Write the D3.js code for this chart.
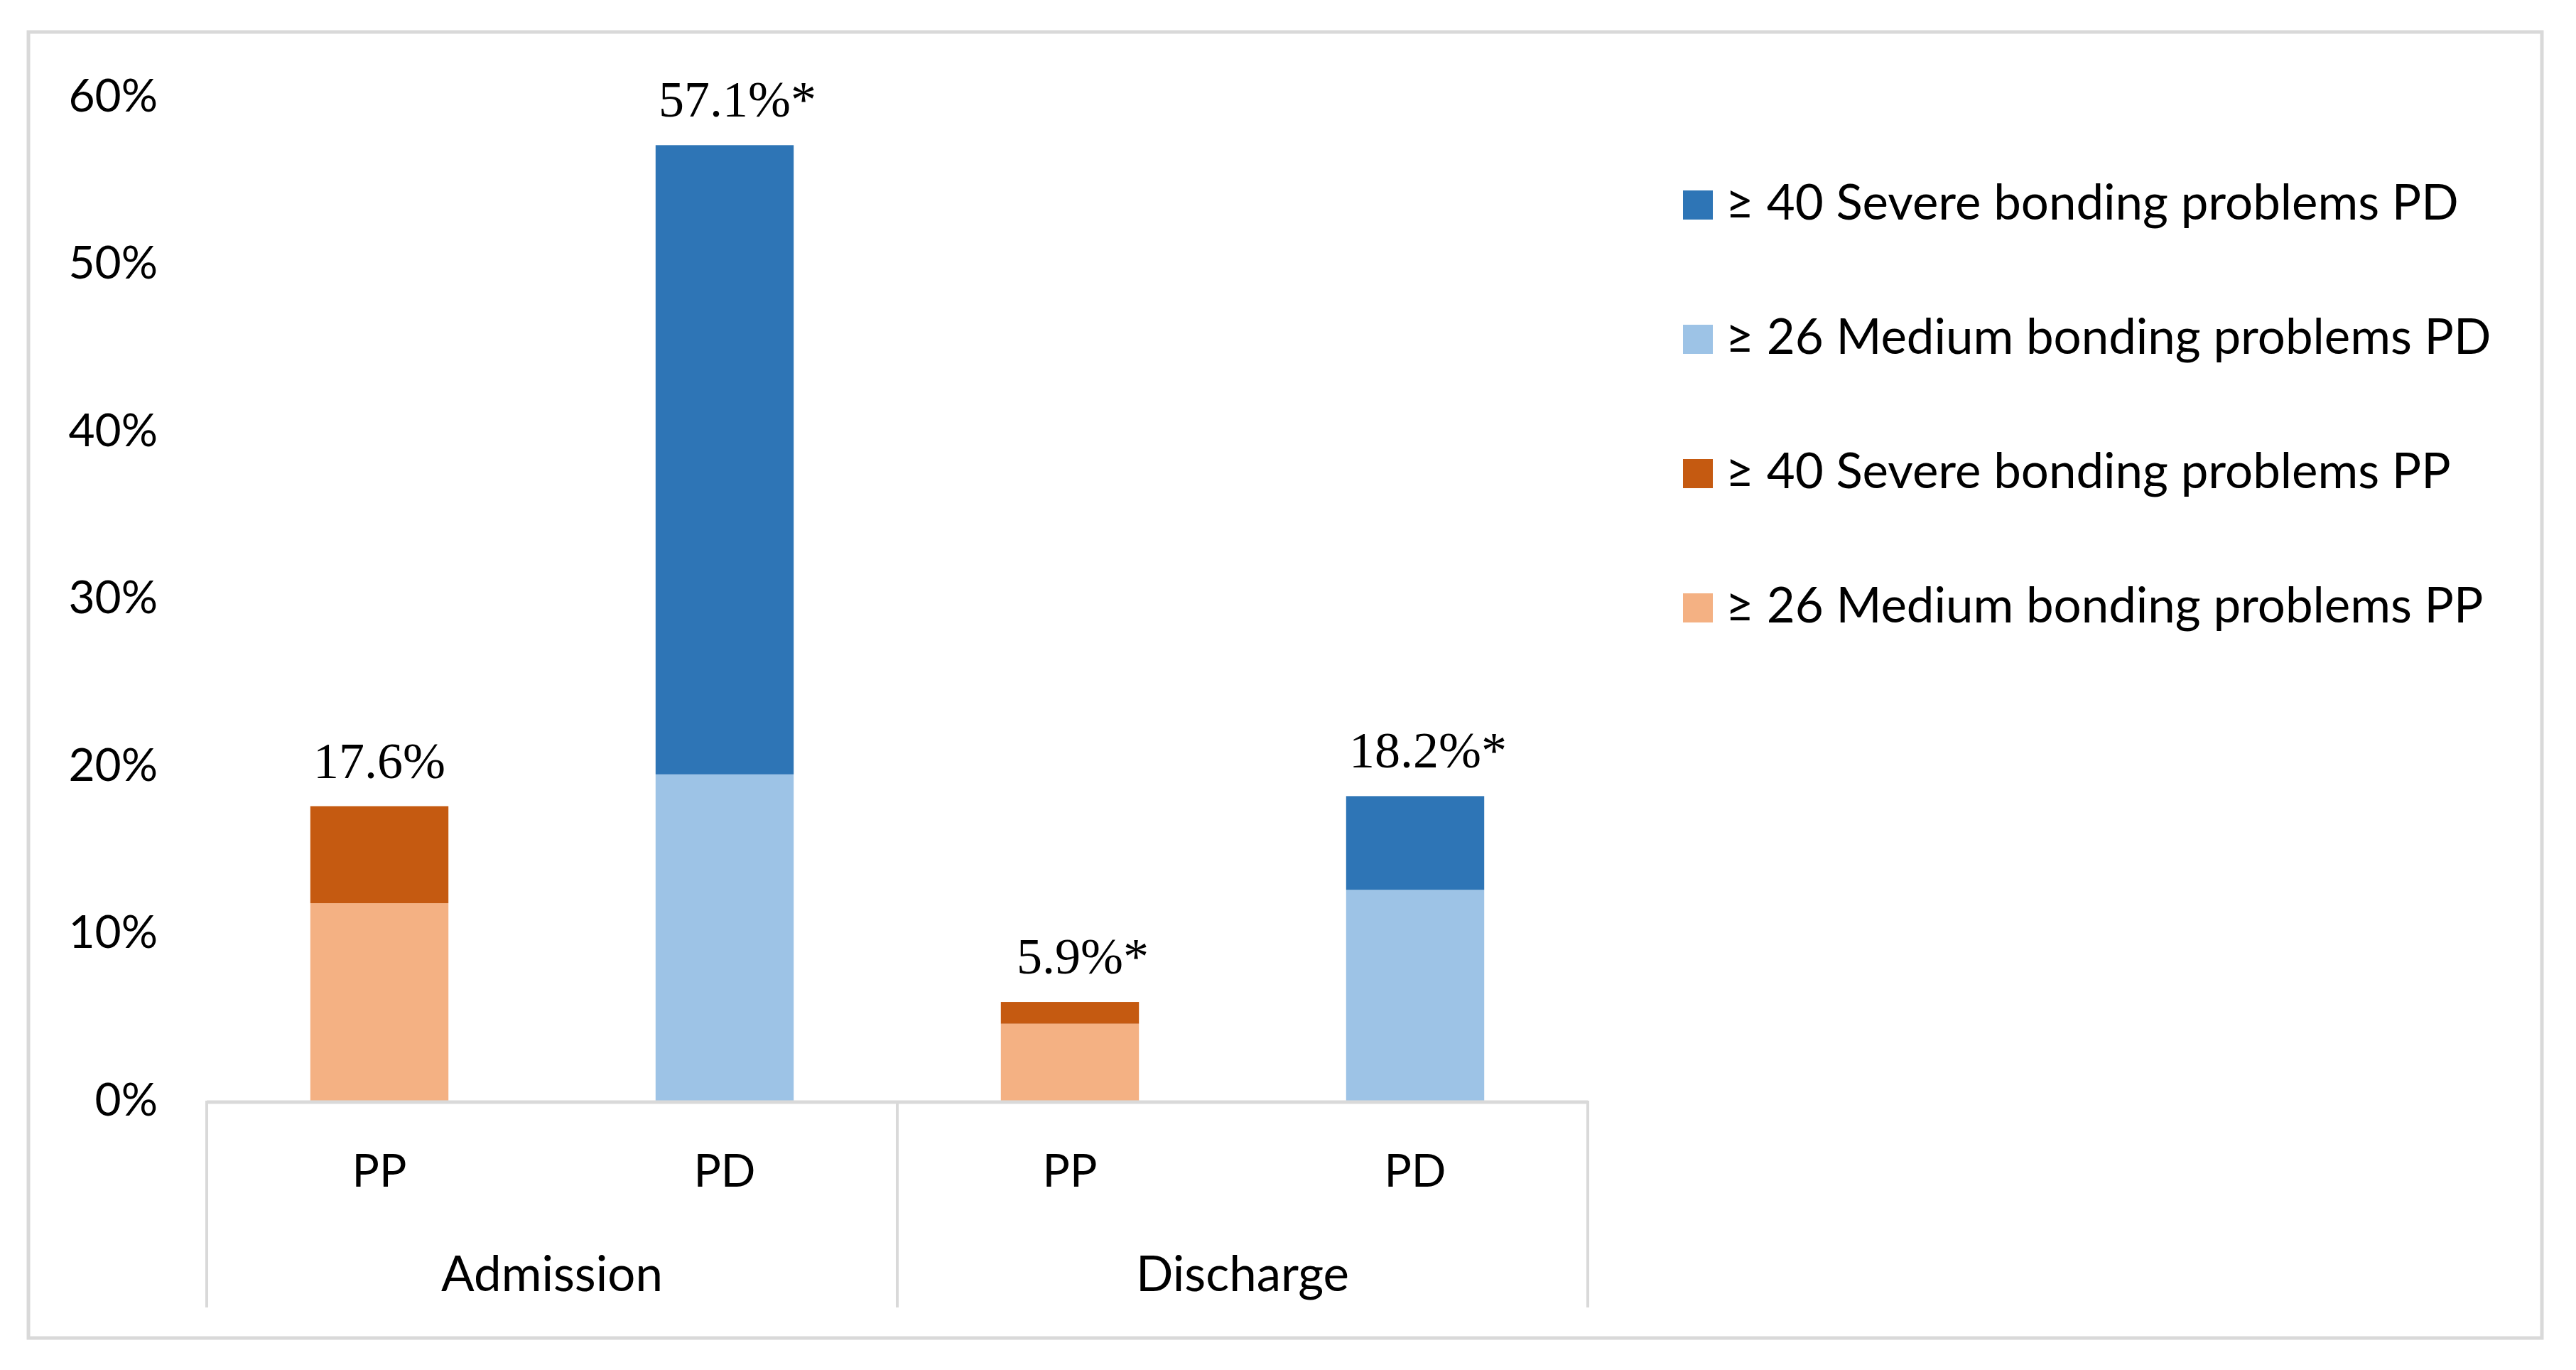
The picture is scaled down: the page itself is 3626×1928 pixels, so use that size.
<!DOCTYPE html>
<html>
<head>
<meta charset="utf-8">
<script src="https://cdn.jsdelivr.net/npm/d3@7"></script>
<style>
	body { margin: 0; background: #fff; }
	svg { display: block; }
	.axis text, .legend text, .cat text { font-family: Lato, 'Open Sans', sans-serif; fill: #000; }
	.dataLabel { font-family: 'Liberation Serif', 'Times New Roman', serif; fill: #000; }
</style>
</head>
<body>
<div id="graphic"></div>
<script>
// chart data
var timepoints = ['Admission', 'Admission', 'Discharge', 'Discharge'];
var groupCodes = ['PP', 'PD', 'PP', 'PD'];
var mediumValues = [11.8, 19.5, 4.6, 12.6];
var severeValues = [5.8, 37.6, 1.3, 5.6];
var totalLabels = ['17.6%', '57.1%', '5.9%', '18.2%'];
var significant = [false, true, true, true];
var yTicks = [0, 10, 20, 30, 40, 50, 60];
var legendLabels = [
	'≥ 40 Severe bonding problems PD',
	'≥ 26 Medium bonding problems PD',
	'≥ 40 Severe bonding problems PP',
	'≥ 26 Medium bonding problems PP'
];
var legendColours = ['#2E75B6', '#9DC3E6', '#C55A11', '#F4B183'];

var colours = {
	PP: { medium: '#F4B183', severe: '#C55A11' },
	PD: { medium: '#9DC3E6', severe: '#2E75B6' }
};

var width = 3626, height = 1928;
var plot = { left: 291, right: 2235, top: 136, bottom: 1549, catBottom: 1840 };
var gridColour = '#D9D9D9';
var numberSize = 64;
var wordSize = 69;

var svg = d3.select('#graphic')
	.append('svg')
	.attr('width', width)
	.attr('height', height);

// outer frame
svg.append('rect')
	.attr('x', 40)
	.attr('y', 45)
	.attr('width', 3538)
	.attr('height', 1838)
	.attr('fill', 'none')
	.attr('stroke', gridColour)
	.attr('stroke-width', 5);

var x = d3.scaleBand()
	.domain(d3.range(timepoints.length))
	.range([plot.left, plot.right])
	.paddingInner(0.6)
	.paddingOuter(0.3);

var y = d3.scaleLinear()
	.domain([0, 60])
	.range([plot.bottom, plot.top]);

// y axis (labels only)
var yAxis = d3.axisLeft(y)
	.tickValues(yTicks)
	.tickSize(0)
	.tickPadding(69)
	.tickFormat(d => d + '%');

svg.append('g')
	.attr('class', 'y axis')
	.attr('transform', 'translate(' + plot.left + ',0)')
	.call(yAxis)
	.call(g => g.select('.domain').remove())
	.selectAll('text')
	.style('font-size', numberSize + 'px');

// stacked bars
var stacks = timepoints.map((t, i) => ({
	i: i,
	code: groupCodes[i],
	medium: mediumValues[i],
	severe: severeValues[i]
}));

var bars = svg.append('g').attr('class', 'bars');

bars.selectAll('rect.medium')
	.data(stacks)
	.join('rect')
	.attr('class', 'medium')
	.attr('x', d => x(d.i))
	.attr('width', x.bandwidth())
	.attr('y', d => y(d.medium))
	.attr('height', d => y(0) - y(d.medium))
	.attr('fill', d => colours[d.code].medium);

bars.selectAll('rect.severe')
	.data(stacks)
	.join('rect')
	.attr('class', 'severe')
	.attr('x', d => x(d.i))
	.attr('width', x.bandwidth())
	.attr('y', d => y(d.medium + d.severe))
	.attr('height', d => y(d.medium) - y(d.medium + d.severe))
	.attr('fill', d => colours[d.code].severe);

// total labels: number centred on the bar, asterisk tacked on after
var labels = svg.append('g').attr('class', 'labels');
stacks.forEach(function (d) {
	var cx = x(d.i) + x.bandwidth() / 2;
	var ty = y(d.medium + d.severe) - 40;
	var t = labels.append('text')
		.attr('class', 'dataLabel')
		.attr('x', cx)
		.attr('y', ty)
		.attr('text-anchor', 'middle')
		.style('font-size', '72px')
		.text(totalLabels[d.i]);
	if (significant[d.i]) {
		var w = t.node().getComputedTextLength();
		labels.append('text')
			.attr('class', 'dataLabel')
			.attr('x', cx + w / 2)
			.attr('y', ty)
			.style('font-size', '72px')
			.text('*');
	}
});

// category axis box
var cat = svg.append('g').attr('class', 'cat');

cat.append('line')
	.attr('x1', plot.left).attr('x2', plot.right)
	.attr('y1', plot.bottom + 2).attr('y2', plot.bottom + 2)
	.attr('stroke', gridColour)
	.attr('stroke-width', 5);

var groupNames = Array.from(new Set(timepoints));

// separators sit halfway between groups and at the ends
var step = x.step();
var separators = [plot.left];
groupNames.forEach(function (g, gi) {
	if (gi > 0) {
		var first = timepoints.indexOf(g);
		separators.push(x(first) - (step - x.bandwidth()) / 2);
	}
});
separators.push(plot.right);

cat.selectAll('line.sep')
	.data(separators)
	.join('line')
	.attr('class', 'sep')
	.attr('x1', d => d).attr('x2', d => d)
	.attr('y1', plot.bottom).attr('y2', plot.catBottom)
	.attr('stroke', gridColour)
	.attr('stroke-width', 4);

cat.selectAll('text.code')
	.data(stacks)
	.join('text')
	.attr('class', 'code')
	.attr('x', d => x(d.i) + x.bandwidth() / 2)
	.attr('y', 1670)
	.attr('text-anchor', 'middle')
	.style('font-size', numberSize + 'px')
	.text(d => d.code);

cat.selectAll('text.group')
	.data(groupNames)
	.join('text')
	.attr('class', 'group')
	.attr('x', (d, gi) => (separators[gi] + separators[gi + 1]) / 2)
	.attr('y', 1817)
	.attr('text-anchor', 'middle')
	.style('font-size', wordSize + 'px')
	.text(d => d);

// legend
var legend = svg.append('g')
	.attr('class', 'legend')
	.attr('transform', 'translate(2369,268)');

var legendItems = legend.selectAll('g')
	.data(legendLabels)
	.join('g')
	.attr('transform', (d, i) => 'translate(0,' + i * 189 + ')');

legendItems.append('rect')
	.attr('width', 42)
	.attr('height', 41)
	.attr('fill', (d, i) => legendColours[i]);

legendItems.append('text')
	.attr('x', 60)
	.attr('y', 41)
	.style('font-size', wordSize + 'px')
	.text(d => d);
</script>
</body>
</html>
